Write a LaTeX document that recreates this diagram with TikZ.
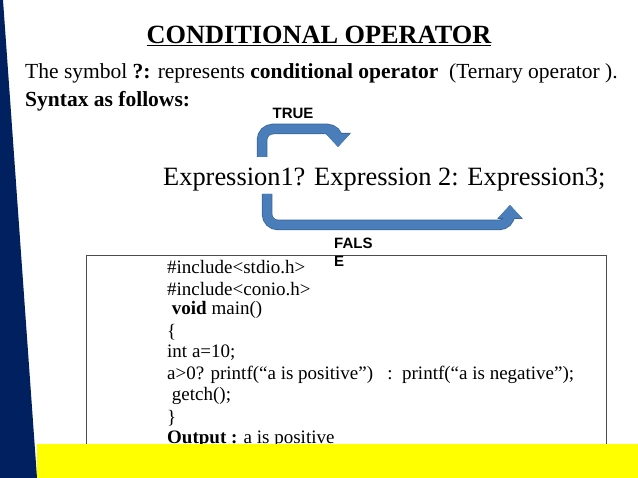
\documentclass[tikz,border=0pt]{standalone}
\usepackage{fontspec}
\setmainfont{Liberation Serif}
\setsansfont{Liberation Sans}
\usetikzlibrary{arrows.meta}
\definecolor{navy}{HTML}{002060}
\definecolor{arrblue}{HTML}{4A7EBB}
\definecolor{arredge}{HTML}{3A6494}
\definecolor{ylw}{HTML}{FFFF00}
\tikzset{
  bigarrow/.style={line width=9pt,color=arrblue,rounded corners=11pt,-{Triangle[length=13pt,width=23pt]},
     preaction={draw=arredge,line width=10.5pt,-{Triangle[length=14pt,width=25pt]}}},
  code/.style={anchor=west,inner sep=0pt,font=\fontsize{19}{21}\selectfont},
  lbl/.style={inner sep=0pt,font=\sffamily\bfseries\fontsize{15}{17}\selectfont}
}
\begin{document}
\begin{tikzpicture}[x=1pt,y=-1pt]
\useasboundingbox (0,0) rectangle (638,478);
\fill[white] (0,0) rectangle (638,478);
\fill[navy] (0,0) -- (3,0) -- (37,478) -- (0,478) -- cycle;
\draw[black!70,line width=0.8pt] (86,444) -- (86,255) -- (606,255) -- (606,444);
\fill[ylw] (37,444) rectangle (638,478);
\node[font=\bfseries\fontsize{26.3}{28}\selectfont,inner sep=0pt] (title) at (319,36) {\underline{CONDITIONAL OPERATOR}};
\node[anchor=west,inner sep=0pt,font=\fontsize{21.5}{24}\selectfont] (sym) at (25,73) {The symbol \textbf{?:} represents \textbf{conditional operator}\ \ (Ternary operator ).};
\node[anchor=west,inner sep=0pt,font=\bfseries\fontsize{21.5}{24}\selectfont] (syn) at (25,101) {Syntax as follows:};
\node[anchor=west,inner sep=0pt,font=\fontsize{26.4}{28}\selectfont] (expr) at (163,180) {Expression1? Expression 2: Expression3;};
\node[lbl] (true) at (293,113) {TRUE};
\node[lbl,anchor=north west,align=left] (false) at (334,238) {FALS\\[1pt]E};
\coordinate (t0) at (262,157);
\coordinate (t1) at (262,129);
\coordinate (t2) at (338,129);
\coordinate (t3) at (338,147);
\draw[bigarrow] (t0) -- (t1) -- (t2) -- (t3);
\coordinate (f0) at (267,194);
\coordinate (f1) at (267,225);
\coordinate (f2) at (510,225);
\coordinate (f3) at (510,205);
\draw[bigarrow] (f0) -- (f1) -- (f2) -- (f3);
\node[code] (c1) at (167,267) {\#include<stdio.h>};
\node[code] (c2) at (167,289) {\#include<conio.h>};
\node[code] (c3) at (167,310) {\ \textbf{void} main()};
\node[code] (c4) at (167,332) {\{};
\node[code] (c5) at (167,353) {int a=10;};
\node[code] (c6) at (167,375) {a>0? printf(“a is positive”)\ \ \ :\ \ printf(“a is negative”);};
\node[code] (c7) at (167,396) {\ getch();};
\node[code] (c8) at (167,418) {\}};
\begin{scope}
\clip (86,425) rectangle (606,444);
\node[code] (c9) at (167,439) {\textbf{Output :} a is positive};
\end{scope}
\end{tikzpicture}
\end{document}
